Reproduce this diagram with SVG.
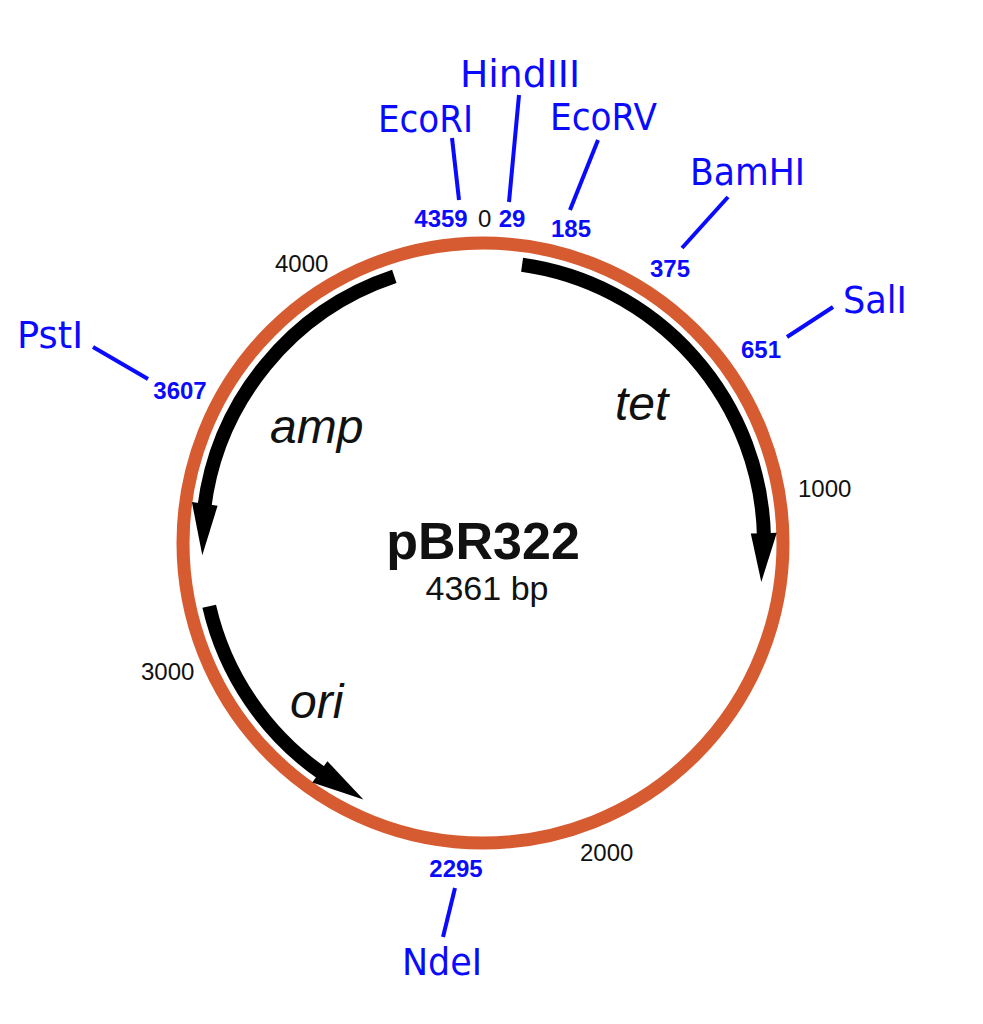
<svg xmlns="http://www.w3.org/2000/svg" width="983" height="1024" viewBox="0 0 983 1024">
  <style>
    .enz { font-family: "DejaVu Sans", "Liberation Sans", sans-serif; font-size: 37px; fill: #0a0aff; }
    .pos { font-family: "Liberation Sans", Arial, sans-serif; font-size: 24px; font-weight: bold; fill: #0a0aff; text-anchor: middle; }
    .tick { font-family: "Liberation Sans", Arial, sans-serif; font-size: 24px; fill: #111; }
    .gene { font-family: "Liberation Sans", Arial, sans-serif; font-size: 48px; font-style: italic; fill: #111; }
    .lead { stroke: #0a0aff; stroke-width: 4; fill: none; }
    .body { stroke: #000; stroke-width: 14; fill: none; }
    .head { fill: #000; }
  </style>
  <rect width="983" height="1024" fill="#fff"/>
  <g id="plasmid">
    <circle cx="483" cy="543" r="300" fill="none" stroke="#d65b31" stroke-width="13"/>
    <text x="483" y="559" text-anchor="middle" style="font-family:'Liberation Sans',Arial,sans-serif;font-size:52px;font-weight:bold;fill:#111">pBR322</text>
    <text x="487" y="600" text-anchor="middle" style="font-family:'Liberation Sans',Arial,sans-serif;font-size:34px;fill:#111">4361 bp</text>
  </g>
  <g id="ticks">
    <text class="tick" x="478" y="227">0</text>
    <text class="tick" x="798" y="497">1000</text>
    <text class="tick" x="580" y="861">2000</text>
    <text class="tick" x="141" y="680">3000</text>
    <text class="tick" x="275" y="272">4000</text>
  </g>
  <g id="gene-tet">
    <path class="body" d="M 522.1 264.7 A 281 281 0 0 1 764.0 538.1"/>
    <polygon class="head" points="750.8,533.6 776.8,532.7 761.3,582.1"/>
    <text class="gene" x="615" y="420">tet</text>
  </g>
  <g id="gene-amp">
    <path class="body" d="M 394.3 276.4 A 281 281 0 0 0 204.1 508.8"/>
    <polygon class="head" points="217.6,505.7 191.9,502.1 202.3,555.3"/>
    <text class="gene" x="270" y="443">amp</text>
  </g>
  <g id="gene-ori">
    <path class="body" d="M 209.2 606.2 A 281 281 0 0 0 323.8 774.6"/>
    <polygon class="head" points="327.4,761.2 312.3,782.4 363.4,799.5"/>
    <text class="gene" x="290" y="718">ori</text>
  </g>
  <g id="connectors">
    <line class="lead" x1="452" y1="138" x2="459" y2="200"/>
    <line class="lead" x1="519" y1="95" x2="509" y2="202"/>
    <line class="lead" x1="598" y1="140" x2="570" y2="210"/>
    <line class="lead" x1="728" y1="197" x2="682" y2="248"/>
    <line class="lead" x1="833" y1="307" x2="787" y2="337"/>
    <line class="lead" x1="93" y1="347" x2="148" y2="379"/>
    <line class="lead" x1="455" y1="888" x2="443" y2="937"/>
  </g>
  <g id="site-EcoRI">
    <text class="enz" x="378" y="132" textLength="95" lengthAdjust="spacingAndGlyphs">EcoRI</text>
    <text class="pos" x="441" y="227">4359</text>
  </g>
  <g id="site-HindIII">
    <text class="enz" x="460" y="87" textLength="120" lengthAdjust="spacingAndGlyphs">HindIII</text>
    <text class="pos" x="512" y="227">29</text>
  </g>
  <g id="site-EcoRV">
    <text class="enz" x="550" y="130" textLength="107" lengthAdjust="spacingAndGlyphs">EcoRV</text>
    <text class="pos" x="571" y="237">185</text>
  </g>
  <g id="site-BamHI">
    <text class="enz" x="690" y="185" textLength="115" lengthAdjust="spacingAndGlyphs">BamHI</text>
    <text class="pos" x="670" y="277">375</text>
  </g>
  <g id="site-SalI">
    <text class="enz" x="843" y="313" textLength="64" lengthAdjust="spacingAndGlyphs">SalI</text>
    <text class="pos" x="761" y="358">651</text>
  </g>
  <g id="site-PstI">
    <text class="enz" x="17" y="348" textLength="66" lengthAdjust="spacingAndGlyphs">PstI</text>
    <text class="pos" x="180" y="399">3607</text>
  </g>
  <g id="site-NdeI">
    <text class="enz" x="402" y="975" textLength="80" lengthAdjust="spacingAndGlyphs">NdeI</text>
    <text class="pos" x="456" y="877">2295</text>
  </g>
</svg>
